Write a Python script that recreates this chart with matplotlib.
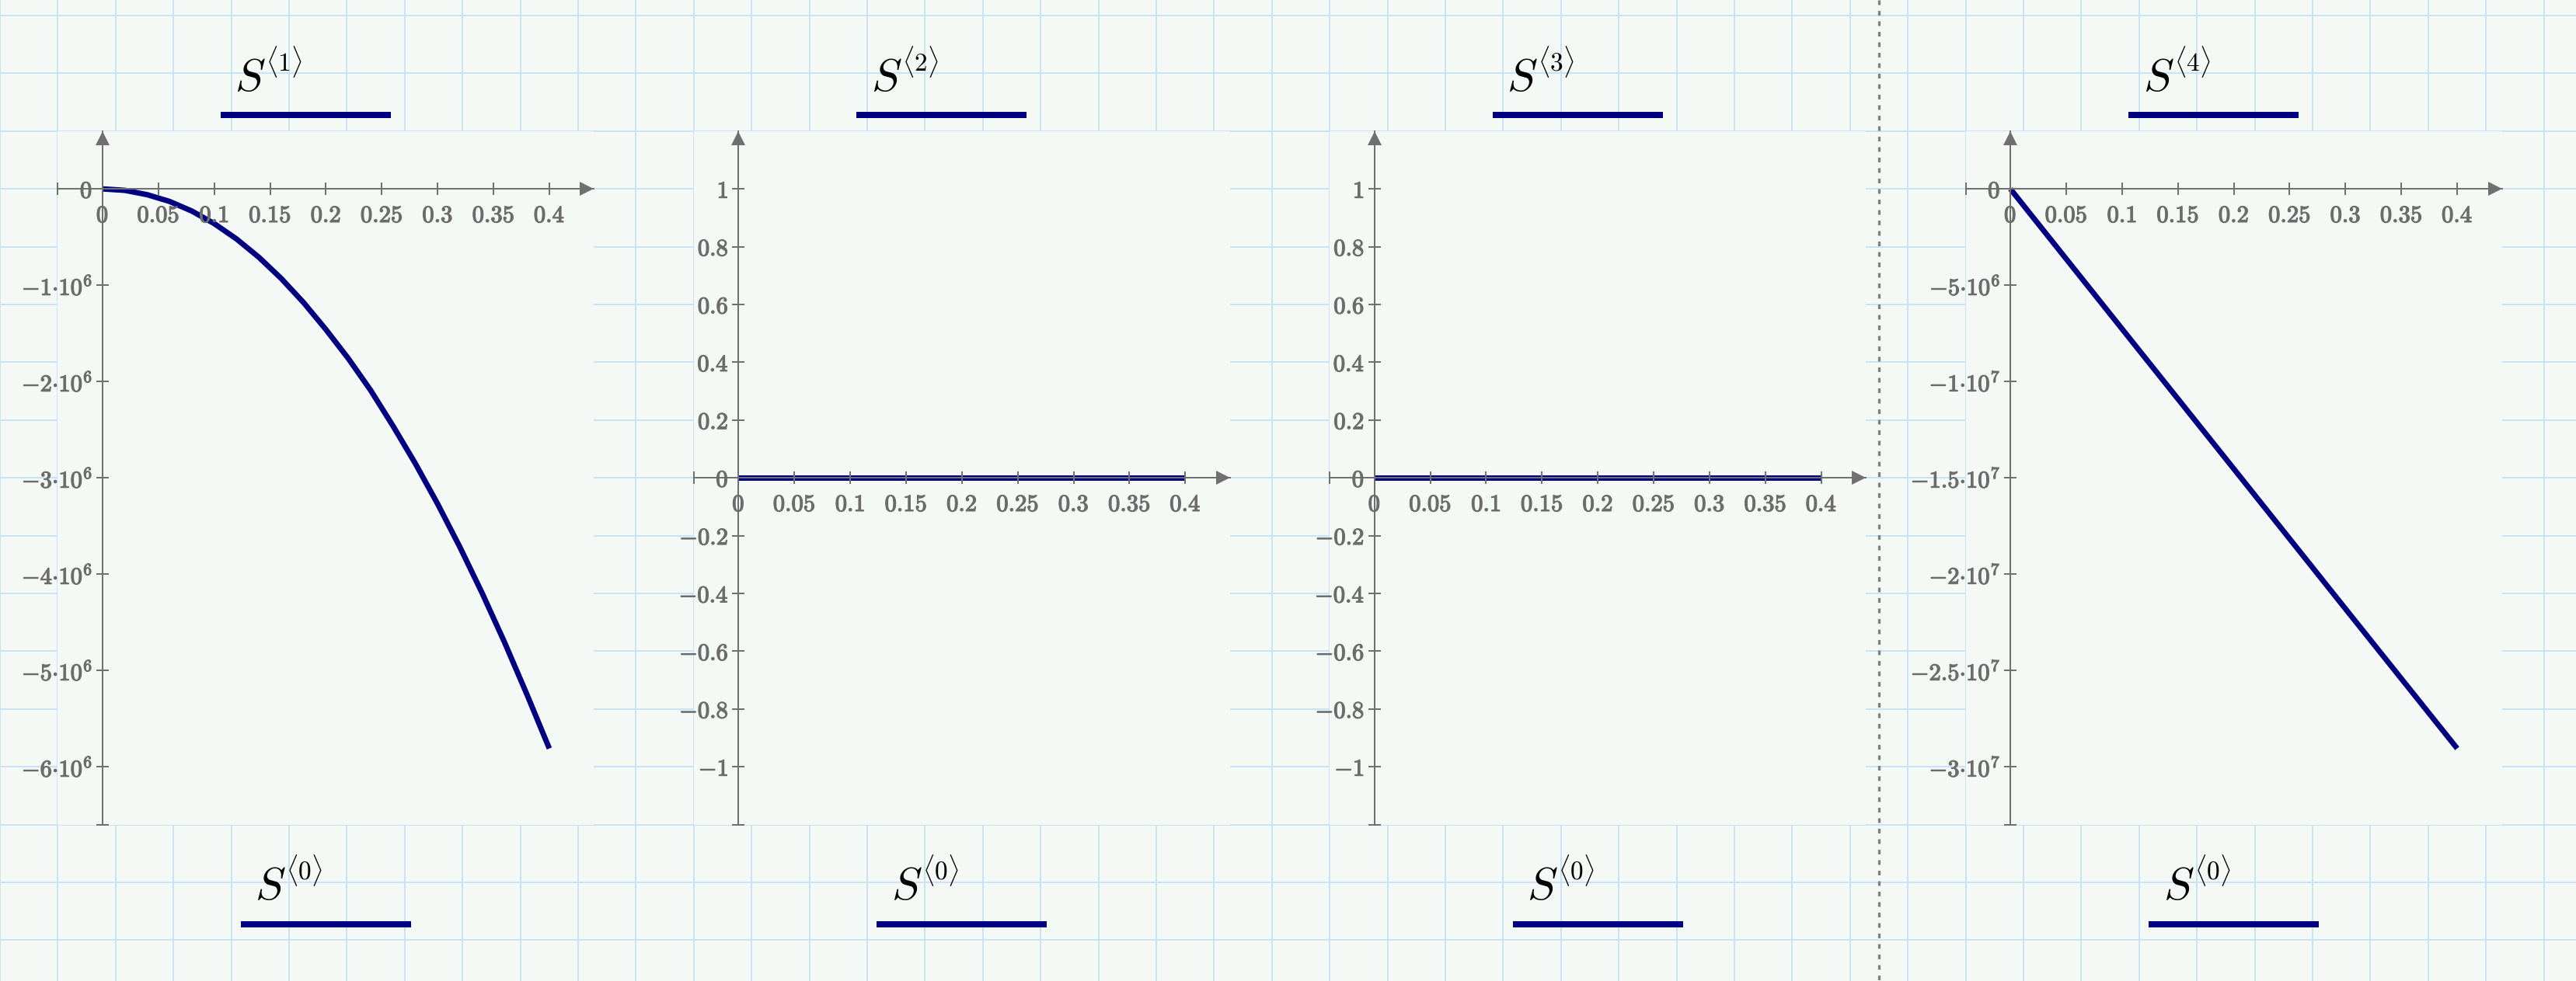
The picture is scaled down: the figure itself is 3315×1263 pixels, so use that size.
import numpy as np
import matplotlib
matplotlib.use("Agg")
import matplotlib.pyplot as plt
import matplotlib.transforms as mtransforms
import matplotlib.patheffects as pe
from matplotlib.lines import Line2D

plt.rcParams['mathtext.fontset'] = 'cm'
plt.rcParams['lines.scale_dashes'] = False

# ---------------- data ----------------
x_vals = [0.0, 0.02, 0.04, 0.06, 0.08, 0.10, 0.12, 0.14, 0.16, 0.18, 0.20,
          0.22, 0.24, 0.26, 0.28, 0.30, 0.32, 0.34, 0.36, 0.38, 0.40]
s1_vals = [0, -0.015e6, -0.06e6, -0.13e6, -0.23e6, -0.36e6, -0.52e6, -0.71e6,
           -0.93e6, -1.18e6, -1.46e6, -1.76e6, -2.09e6, -2.46e6, -2.85e6,
           -3.27e6, -3.72e6, -4.20e6, -4.71e6, -5.25e6, -5.81e6]
s2_vals = [0.0] * len(x_vals)
s3_vals = [0.0] * len(x_vals)
x4_vals = [0.0, 0.1, 0.2, 0.3, 0.4]
s4_vals = [0.0, -0.727e7, -1.453e7, -2.18e7, -2.905e7]

top_legend_idx = ['1', '2', '3', '4']
bottom_legend_idx = '0'

x_ticks = [0, 0.05, 0.1, 0.15, 0.2, 0.25, 0.3, 0.35, 0.4]
x_ticklabels = ['0', '0.05', '0.1', '0.15', '0.2', '0.25', '0.3', '0.35', '0.4']
x_lim = (-0.04, 0.44)

y1_ticks = [0, -1e6, -2e6, -3e6, -4e6, -5e6, -6e6]
y1_labels = ['0'] + [r'-%d{\cdot}10^{6}' % k for k in range(1, 7)]
y1_lim = (-6.6e6, 0.6e6)

y23_ticks = [1, 0.8, 0.6, 0.4, 0.2, 0, -0.2, -0.4, -0.6, -0.8, -1]
y23_labels = ['1', '0.8', '0.6', '0.4', '0.2', '0', '-0.2', '-0.4', '-0.6', '-0.8', '-1']
y23_lim = (-1.2, 1.2)

y4_ticks = [0, -5e6, -1e7, -1.5e7, -2e7, -2.5e7, -3e7]
y4_labels = ['0', r'-5{\cdot}10^{6}', r'-1{\cdot}10^{7}', r'-1.5{\cdot}10^{7}',
             r'-2{\cdot}10^{7}', r'-2.5{\cdot}10^{7}', r'-3{\cdot}10^{7}']
y4_lim = (-3.3e7, 0.3e7)

# ---------------- style ----------------
W, H = 3315, 1263
DPI = 100
BG = '#f5f9f6'
GRID = '#c9e2f8'
AX = '#707070'
LBL = '#6c6c6c'
NAVY = '#000080'
G = 74.4
PX = 72.0 / DPI  # points per pixel

fig = plt.figure(figsize=(W / DPI, H / DPI), dpi=DPI, facecolor=BG)

# background grid (worksheet)
bg = fig.add_axes([0, 0, 1, 1], zorder=0)
bg.set_xlim(0, W)
bg.set_ylim(H, 0)
bg.axis('off')
bg.set_facecolor(BG)
for k in range(0, 17):
    bg.axhline(20 + G * k, color=GRID, lw=2 * PX, zorder=0)
for k in range(0, 45):
    bg.axvline(G * k, color=GRID, lw=2 * PX, zorder=0)
# dashed region separator
bg.plot([2417.7, 2417.7], [0, H], color='#808080', lw=3.3 * PX,
        linestyle=(0, (6 * PX, 7.5 * PX)), zorder=1, solid_capstyle='butt')

panels = [
    (x_vals, s1_vals, y1_ticks, y1_labels, y1_lim),
    (x_vals, s2_vals, y23_ticks, y23_labels, y23_lim),
    (x_vals, s3_vals, y23_ticks, y23_labels, y23_lim),
    (x4_vals, s4_vals, y4_ticks, y4_labels, y4_lim),
]

top_px = 20 + 2 * G
h_px = 12 * G
w_px = 690
thick = [pe.withStroke(linewidth=0.9, foreground=LBL)]


def legend_label(x, y, idx):
    bg.text(x, y, r'$S$', fontsize=42, color='black', ha='left',
            va='baseline', zorder=3)
    bg.text(x + 40, y - 25, r'$\langle %s\rangle$' % idx, fontsize=24,
            color='black', ha='left', va='baseline', zorder=3)


for i, (xs, ys, yt, yl, ylim) in enumerate(panels):
    L = G * (1 + 11 * i)
    ax = fig.add_axes([L / W, 1 - (top_px + h_px) / H, w_px / W, h_px / H], zorder=2)
    ax.set_facecolor(BG)
    ax.set_xlim(*x_lim)
    ax.set_ylim(*ylim)
    ax.plot(xs, ys, color=NAVY, lw=7 * PX, solid_capstyle='butt', zorder=2)

    for s in ['top', 'right']:
        ax.spines[s].set_visible(False)
    ax.spines['left'].set_position(('data', 0))
    ax.spines['bottom'].set_position(('data', 0))
    for s in ['left', 'bottom']:
        ax.spines[s].set_color(AX)
        ax.spines[s].set_linewidth(2 * PX)
    ax.set_axisbelow(False)

    ax.set_xticks([x_lim[0]] + x_ticks)
    ax.set_xticklabels([''] + ['$%s$' % t for t in x_ticklabels])
    ax.set_yticks([ylim[0]] + yt)
    ax.set_yticklabels([''] + ['$%s$' % t for t in yl])
    ax.tick_params(direction='inout', length=16 * PX, width=2 * PX, color=AX,
                   labelcolor=LBL, labelsize=22)
    ax.tick_params(axis='x', pad=8.5)
    ax.tick_params(axis='y', pad=3.5)
    for lab in ax.get_xticklabels() + ax.get_yticklabels():
        lab.set_path_effects(thick)

    # arrow heads
    ty = mtransforms.offset_copy(ax.get_xaxis_transform(), fig=fig, y=-9, units='dots')
    ax.plot([0], [1], marker='^', ms=18 * PX, color=AX, mew=0, transform=ty,
            clip_on=False, zorder=3)
    tx = mtransforms.offset_copy(ax.get_yaxis_transform(), fig=fig, x=-9, units='dots')
    ax.plot([1], [0], marker='>', ms=18 * PX, color=AX, mew=0, transform=tx,
            clip_on=False, zorder=3)

    # legends
    bg.add_line(Line2D([L + 209.6, L + 428.3], [148.3, 148.3], color=NAVY,
                       lw=8 * PX, solid_capstyle='butt', zorder=2))
    legend_label(L + 228, 116.7, top_legend_idx[i])
    bg.add_line(Line2D([L + 235.6, L + 454.6], [1190, 1190], color=NAVY,
                       lw=8 * PX, solid_capstyle='butt', zorder=2))
    legend_label(L + 254, 1158, bottom_legend_idx)

fig.savefig('out.png', dpi=DPI, facecolor=BG)
